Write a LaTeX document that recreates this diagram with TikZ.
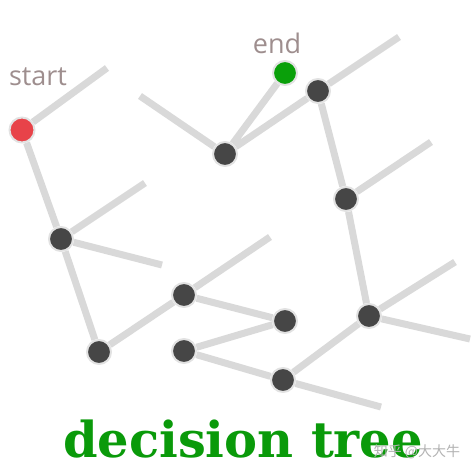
\documentclass[tikz,border=0pt]{standalone}
\usepackage{fontspec}
\setmainfont{Open Sans}
\newfontfamily\titlefont{DejaVu Serif}
\newfontfamily\cjk{Noto Sans CJK SC}
\usepackage{tikz}
\usetikzlibrary{backgrounds}
\definecolor{twig}{HTML}{D9D9D9}
\definecolor{knot}{HTML}{464646}
\definecolor{ring}{HTML}{E2E2E2}
\definecolor{startred}{HTML}{E84349}
\definecolor{endgreen}{HTML}{0AA00A}
\definecolor{labelgray}{HTML}{9E8E8E}
\definecolor{titlegreen}{HTML}{0A9A0A}

\begin{document}
\begin{tikzpicture}[x=1pt,y=-1pt,
		knotnode/.style={circle,fill=knot,draw=ring,line width=2pt,minimum size=24pt,inner sep=0pt},
		twigline/.style={draw=twig,line width=7pt},
		tag/.style={text=labelgray,font=\fontsize{27}{27}\selectfont,inner sep=0pt}]
		\useasboundingbox (0,0) rectangle (474,474);
		
		\node[knotnode,fill=startred,minimum size=25pt] (start) at (22,130) {};
		\node[knotnode] (a) at (61,239) {};
		\node[knotnode] (b) at (99,352) {};
		\node[knotnode] (c) at (184,295) {};
		\node[knotnode] (d) at (285,321) {};
		\node[knotnode] (e) at (184,351) {};
		\node[knotnode] (f) at (283,380) {};
		\node[knotnode] (g) at (225,154) {};
		\node[knotnode,fill=endgreen] (end) at (285,73) {};
		\node[knotnode] (h) at (318,91) {};
		\node[knotnode] (i) at (346,199) {};
		\node[knotnode] (j) at (369,316) {};
		
		% loose branch ends
		\coordinate (s1) at (107,68);
		\coordinate (g1) at (140,96);
		\coordinate (a1) at (145,183);
		\coordinate (a2) at (162,265);
		\coordinate (c1) at (270,237);
		\coordinate (f1) at (381,407);
		\coordinate (j1) at (455,262);
		\coordinate (j2) at (470,339);
		\coordinate (h1) at (399,37);
		\coordinate (i1) at (431,142);
		
		\begin{pgfonlayer}{background}
		\path[twigline] (start) -- (a) -- (b) -- (c) -- (d) -- (e) -- (f) -- (j) -- (i) -- (h) -- (g) -- (end);
		\path[twigline] (start) -- (s1);
		\path[twigline] (g) -- (g1);
		\path[twigline] (a) -- (a1);
		\path[twigline] (a) -- (a2);
		\path[twigline] (c) -- (c1);
		\path[twigline] (f) -- (f1);
		\path[twigline] (j) -- (j1);
		\path[twigline] (j) -- (j2);
		\path[twigline] (h) -- (h1);
		\path[twigline] (i) -- (i1);
		\end{pgfonlayer}
		
		\node[tag,anchor=base] (starttag) at (38,85) {start};
		\node[tag,anchor=base] (endtag) at (277,53) {end};
		
		\node[anchor=base,inner sep=0pt,text=titlegreen,font=\titlefont\bfseries\fontsize{49.5}{49.5}\selectfont] (title) at (243,457) {decision tree};
		\node[anchor=base,inner sep=0pt,text=black!30,font=\cjk\fontsize{14}{14}\selectfont] (mark) at (417,456) {知乎 @大大牛};
\end{tikzpicture}
\end{document}
